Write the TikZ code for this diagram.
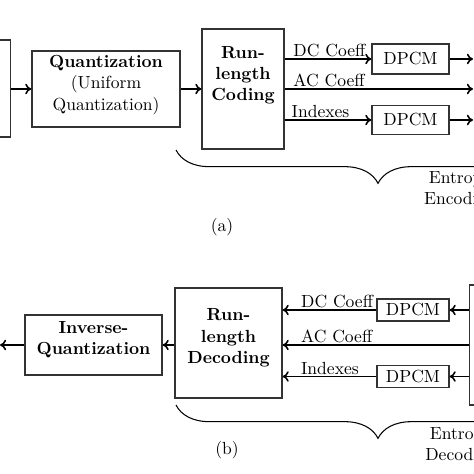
\documentclass[tikz,border=0pt]{standalone}
\usetikzlibrary{arrows.meta,calc,positioning,decorations.pathreplacing}

\begin{document}
\begin{tikzpicture}[x=0.57pt,y=-0.57pt,
    blk/.style={draw=black!80, line width=0.7pt, inner sep=0pt, align=center},
    arr/.style={line width=0.9pt, -{To[length=3.5pt,width=6pt]}},
    lbl/.style={inner sep=0.6pt},
    brc/.style={line width=0.6pt, decorate, decoration={brace, mirror, amplitude=19pt}}]
    \useasboundingbox (0,0) rectangle (474,474);
    \clip (0,0) rectangle (474,474);
    \coordinate (edgeL) at (0,0);
    \coordinate (edgeR) at (473,0);
    % (a) encoder
    \node[blk, minimum width=58pt, minimum height=55.3pt] (T) at (-40,88.5) {};
    \node[blk, minimum width=84.4pt, minimum height=43.3pt, text depth=7pt] (Q) at (106,89) {\textbf{Quantization}\\(Uniform\\Quantization)};
    \node[blk, font=\bfseries, minimum width=46.7pt, minimum height=68.4pt, text depth=18pt] (RLC) at (243,89) {Run-\\length\\Coding};
    \node[blk, minimum width=43.9pt, minimum height=17pt] (D1) at (410.5,59) {DPCM};
    \node[blk, minimum width=43.9pt, minimum height=16.5pt] (D2) at (410.5,120) {DPCM};
    \draw[arr] (T.east |- Q.west) -- (Q.west);
    \draw[arr] (Q.east) -- (RLC.west);
    \draw[arr] (RLC.east |- D1.west) -- node[lbl, pos=0, anchor=south west, xshift=4pt] (dcA) {DC Coeff} (D1.west);
    \draw[arr] (RLC.east) -- node[lbl, pos=0, anchor=south west, xshift=4pt] (acA) {AC Coeff} (RLC.east -| edgeR);
    \draw[arr] (RLC.east |- D2.west) -- node[lbl, pos=0, anchor=south west, xshift=3pt] (ixA) {Indexes} (D2.west);
    \draw[arr] (D1.east) -- (D1.east -| edgeR);
    \draw[arr] (D2.east) -- (D2.east -| edgeR);
    \coordinate (bA1) at (176,150);
    \coordinate (bA2) at (580,150);
    \draw[brc] (bA1) -- (bA2);
    \node[align=center] (encTxt) at (460,190) {Entropy\\Encoding};
    \node (capA) at (222,227) {(a)};
    % (b) decoder
    \node[blk, minimum width=58pt, minimum height=68.4pt] (R) at (520,345) {};
    \node[blk, font=\bfseries, minimum width=78.1pt, minimum height=34.2pt, text depth=8pt] (IQ) at (93.5,345) {Inverse-\\Quantization};
    \node[blk, font=\bfseries, minimum width=61pt, minimum height=62.7pt, text depth=8pt] (RLD) at (228.5,343) {Run-\\length\\Decoding};
    \node[blk, minimum width=41pt, minimum height=12.5pt] (D3) at (413,310) {DPCM};
    \node[blk, minimum width=41pt, minimum height=12.5pt] (D4) at (413,376.5) {DPCM};
    \draw[arr] (R.west |- D3.east) -- (D3.east);
    \draw[arr] (R.west |- D4.east) -- (D4.east);
    \draw[arr] (D3.west) -- node[lbl, pos=1, anchor=south west, xshift=9.5pt] (dcB) {DC Coeff} (D3.west -| RLD.east);
    \draw[arr] (R.west) -- node[lbl, pos=1, anchor=south west, xshift=9.5pt] (acB) {AC Coeff} (R.west -| RLD.east);
    \draw[arr] (D4.west) -- node[lbl, pos=1, anchor=south west, xshift=9.5pt] (ixB) {Indexes} (D4.west -| RLD.east);
    \draw[arr] (RLD.west |- IQ.east) -- (IQ.east);
    \draw[arr] (IQ.west) -- (IQ.west -| edgeL);
    \coordinate (bB1) at (176,405);
    \coordinate (bB2) at (580,405);
    \draw[brc] (bB1) -- (bB2);
    \node[align=center] (decTxt) at (461,446) {Entropy\\Decoding};
    \node (capB) at (227,450) {(b)};
\end{tikzpicture}
\end{document}
